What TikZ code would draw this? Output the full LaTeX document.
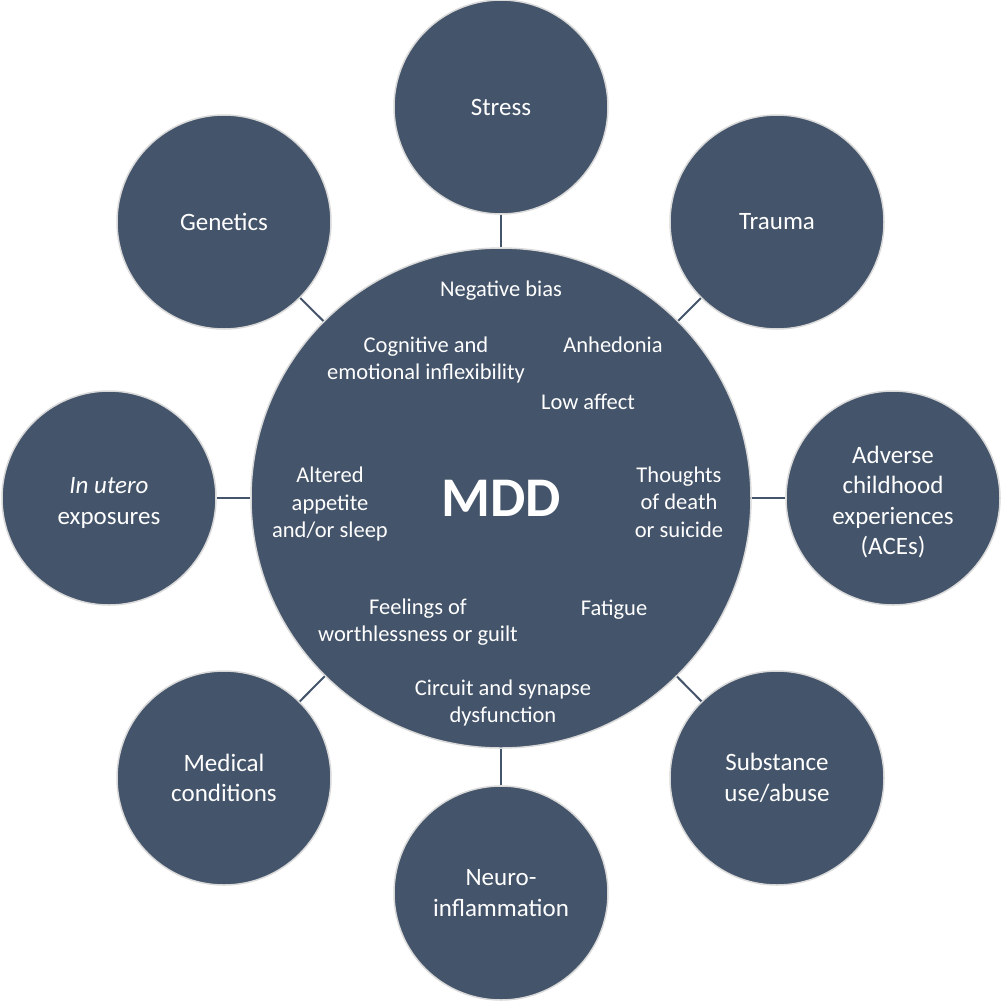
\documentclass[tikz,border=0pt]{standalone}
\usepackage{fontspec}
\setmainfont{Carlito}
\definecolor{nodeblue}{HTML}{44546A}
\definecolor{rimgray}{HTML}{D9D9D9}
\begin{document}
\begin{tikzpicture}[x=1pt,y=-1pt,
  bubble/.style={circle,fill=nodeblue,draw=rimgray,line width=1.5pt,inner sep=0pt,
    minimum size=214pt,text=white,align=center,font=\fontsize{25}{30.5}\selectfont},
  bubbletext/.style={text=white,align=center,inner sep=0pt,font=\fontsize{25}{30.5}\selectfont},
  hub/.style={circle,fill=nodeblue,draw=rimgray,line width=1.5pt,inner sep=0pt,
    minimum size=500pt,text=white,font=\fontsize{56}{60}\selectfont\bfseries},
  symptom/.style={text=white,align=center,inner sep=0pt,font=\fontsize{22.5}{27.5}\selectfont},
  link/.style={draw=nodeblue,line width=2pt}]
\useasboundingbox (0,0) rectangle (1002,1002);
\node[hub] (mdd) at (501,498) {MDD};
\node[bubble] (stress) at (501,107) {Stress};
\node[bubble] (trauma) at (777,222) {Trauma};
\node[bubble] (aces) at (893,498) {};
\node[bubbletext] (acestext) at (893,502) {Adverse\\childhood\\experiences\\(ACEs)};
\node[bubble] (subst) at (777,778) {Substance\\use/abuse};
\node[bubble] (neuro) at (501,893) {Neuro-\\inflammation};
\node[bubble] (medical) at (224,778) {Medical\\conditions};
\node[bubble] (utero) at (109,498) {};
\node[bubbletext] (uterotext) at (109,503) {\textit{In utero}\\exposures};
\node[bubble] (genetics) at (224,222) {Genetics};
\foreach \n in {stress,trauma,aces,subst,neuro,medical,utero,genetics}
  \draw[link] (\n) -- (mdd);
\node[symptom] (negbias) at (501,291) {Negative bias};
\node[symptom] (cogn) at (426,360) {Cognitive and\\emotional inflexibility};
\node[symptom] (anhed) at (613,345) {Anhedonia};
\node[symptom] (lowaff) at (588,402) {Low affect};
\node[symptom] (appet) at (330,504) {Altered\\appetite\\and/or sleep};
\node[symptom] (death) at (679,502) {Thoughts\\of death\\or suicide};
\node[symptom] (worth) at (418,622) {Feelings of\\worthlessness or guilt};
\node[symptom] (fatig) at (614,610) {Fatigue};
\node[symptom] (circ) at (503,703) {Circuit and synapse\\dysfunction};
\end{tikzpicture}
\end{document}
